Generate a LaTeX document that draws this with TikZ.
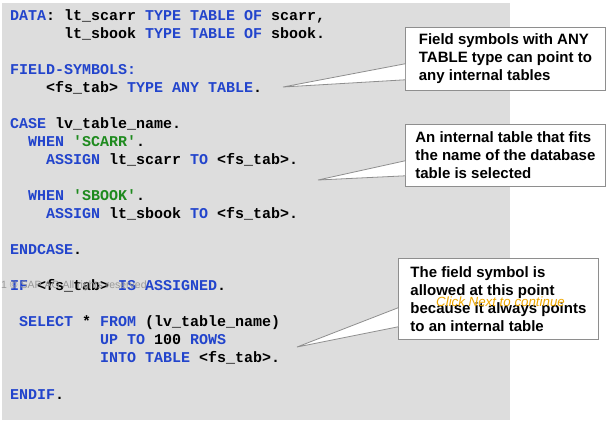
\documentclass[tikz,border=0pt]{standalone}
\usepackage{fontspec}
\setmainfont{Liberation Sans}
\newfontfamily\codefont{Liberation Mono}
\usetikzlibrary{positioning}
\definecolor{kwblue}{HTML}{2244CC}
\definecolor{litgreen}{HTML}{1E8A1E}
\definecolor{panel}{HTML}{DDDDDD}
\definecolor{rim}{HTML}{8E8E8E}
\definecolor{hint}{HTML}{F0A800}
\newcommand\kw[1]{\textcolor{kwblue}{#1}}
\newcommand\lit[1]{\textcolor{litgreen}{#1}}

\begin{document}
\begin{tikzpicture}[x=1pt,y=-1pt,
  code/.style={anchor=base west,inner sep=0pt,font=\codefont\bfseries\fontsize{15}{18}\selectfont\frenchspacing},
  callbox/.style={draw=rim,fill=white,line width=0.8pt,anchor=north west,minimum width=200pt,inner xsep=9pt,align=left,font=\bfseries\fontsize{15}{18}\selectfont},
  tail/.style={draw=rim,fill=white,line width=0.8pt,line join=miter}]
  \useasboundingbox (0,0) rectangle (609,421);
  \fill[panel] (2,3) rectangle (510,420);
  % code listing: line/indent/text
  \foreach \i/\ind/\txt in {0/0/{\kw{DATA}: lt\_scarr \kw{TYPE TABLE OF} scarr,},
      1/6/{lt\_sbook \kw{TYPE TABLE OF} sbook.},
      3/0/{\kw{FIELD-SYMBOLS:}},
      4/4/{<fs\_tab> \kw{TYPE ANY TABLE}.},
      6/0/{\kw{CASE} lv\_table\_name.},
      7/2/{\kw{WHEN} \lit{\textquotesingle SCARR\textquotesingle}.},
      8/4/{\kw{ASSIGN} lt\_scarr \kw{TO} <fs\_tab>.},
      10/2/{\kw{WHEN} \lit{\textquotesingle SBOOK\textquotesingle}.},
      11/4/{\kw{ASSIGN} lt\_sbook \kw{TO} <fs\_tab>.},
      13/0/{\kw{ENDCASE}.},
      15/0/{\kw{IF} <fs\_tab> \kw{IS ASSIGNED}.},
      17/1/{\kw{SELECT} * \kw{FROM} (lv\_table\_name)},
      18/10/{\kw{UP TO} 100 \kw{ROWS}},
      19/10/{\kw{INTO TABLE} <fs\_tab>.},
      21/0/{\kw{ENDIF}.}}
    \node[code] (l\i) at (10+9*\ind,20+18.05*\i) {\txt};
  \node[anchor=west,inner sep=0pt,text=gray!80,font=\fontsize{10.5}{12}\selectfont] (copy) at (1,286) {1 \textcopyright\ SAP AG All rights reserved};
  % callouts
  \node[callbox,minimum height=63pt] (b1) at (405,27) {Field symbols with ANY\\TABLE type can point to\\any internal tables};
  \node[callbox,minimum height=62pt] (b2) at (405,124) {An internal table that fits\\the name of the database\\table is selected};
  \node[callbox,minimum height=81pt] (b3) at (398,258) {The field symbol is\\allowed at this point\\because it always points\\to an internal table};
  \coordinate (t1) at (283,87);
  \coordinate (t2) at (318,180);
  \coordinate (t3) at (297,347);
  \path[tail] ([yshift=27pt]b1.south west) -- (t1) -- ([yshift=11pt]b1.south west);
  \path[tail] ([yshift=26pt]b2.south west) -- (t2) -- ([yshift=11pt]b2.south west);
  \path[tail] ([yshift=32pt]b3.south west) -- (t3) -- ([yshift=13pt]b3.south west);
  \node[anchor=west,inner sep=0pt,text=hint,font=\itshape\fontsize{13.3}{15}\selectfont] (next) at (436,302) {Click Next to continue};
\end{tikzpicture}
\end{document}
